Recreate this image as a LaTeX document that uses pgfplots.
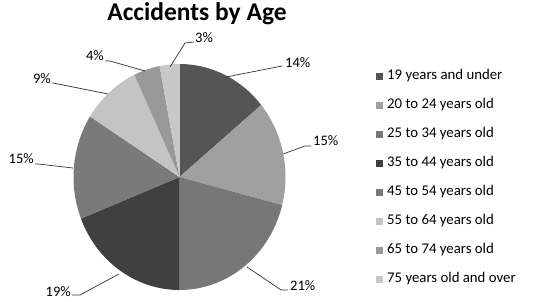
\documentclass[border=0pt]{standalone}
\usepackage{pgfplots}
\usepackage{pgfplotstable}
\usepackage{fontspec}
\setmainfont{Carlito}
\pgfplotsset{compat=1.18}
\definecolor{s1}{HTML}{555555}
\definecolor{s2}{HTML}{A0A0A0}
\definecolor{s3}{HTML}{777777}
\definecolor{s4}{HTML}{404040}
\definecolor{s5}{HTML}{7A7A7A}
\definecolor{s6}{HTML}{C4C4C4}
\definecolor{s7}{HTML}{999999}
\definecolor{s8}{HTML}{C8C8C8}
\pgfplotstableread[col sep=comma]{
label,value,col
19 years and under,14,s1
20 to 24 years old,15,s2
25 to 34 years old,21,s3
35 to 44 years old,19,s4
45 to 54 years old,15,s5
55 to 64 years old,9,s6
65 to 74 years old,4,s7
75 years old and over,3,s8
}\piedata
\tikzset{lab/.style={inner sep=0pt, font=\fontsize{14.5}{16}\selectfont}}
\begin{document}
\begin{tikzpicture}
\begin{axis}[
  width=557pt, height=301pt, scale only axis,
  xmin=0, xmax=557, ymin=0, ymax=301,
  hide axis, clip=false,
]
\path (axis cs:0,0) rectangle (axis cs:557,301);
% pie slices
\def\cum{0}
\pgfplotsforeachungrouped \i in {0,...,7}{%
  \pgfplotstablegetelem{\i}{value}\of\piedata \let\v\pgfplotsretval
  \pgfplotstablegetelem{\i}{col}\of\piedata \let\c\pgfplotsretval
  \pgfmathsetmacro\sa{90-3.6*\cum}%
  \pgfmathsetmacro\newcum{\cum+\v}%
  \pgfmathsetmacro\ea{90-3.6*\newcum}%
  \global\let\cum\newcum
  \edef\cmd{\noexpand\fill[\c] (axis cs:179.5,124) -- ++(\sa:106pt and 113pt) arc[start angle=\sa, end angle=\ea, x radius=106pt, y radius=113pt] -- cycle;}%
  \cmd
}
% leader lines
\draw[black!80, line width=0.7pt] (axis cs:226,224) -- (axis cs:282,235);
\draw[black!80, line width=0.7pt] (axis cs:283,147) -- (axis cs:305,155) -- (axis cs:311,155);
\draw[black!80, line width=0.7pt] (axis cs:247,34) -- (axis cs:281,11) -- (axis cs:288,11);
\draw[black!80, line width=0.7pt] (axis cs:119,27) -- (axis cs:80,6) -- (axis cs:72,6);
\draw[black!80, line width=0.7pt] (axis cs:73,133) -- (axis cs:38,137) -- (axis cs:35,137);
\draw[black!80, line width=0.7pt] (axis cs:108,207) -- (axis cs:53,218) -- (axis cs:52,218);
\draw[black!80, line width=0.7pt] (axis cs:145,230) -- (axis cs:110,240) -- (axis cs:105,240);
\draw[black!80, line width=0.7pt] (axis cs:170,234) -- (axis cs:185,258) -- (axis cs:194,259);
% labels
\node[lab, anchor=west] at (axis cs:285,238) {14\%};
\node[lab, anchor=west] at (axis cs:313,160) {15\%};
\node[lab, anchor=west] at (axis cs:290,15) {21\%};
\node[lab, anchor=east] at (axis cs:71,9) {19\%};
\node[lab, anchor=east] at (axis cs:34,142) {15\%};
\node[lab, anchor=east] at (axis cs:51,222) {9\%};
\node[lab, anchor=east] at (axis cs:104,245) {4\%};
\node[lab, anchor=west] at (axis cs:195,263) {3\%};
% title
\node[inner sep=0pt, font=\fontsize{25.5}{28}\selectfont\bfseries] at (axis cs:197,287) {Accidents by Age};
% legend
\pgfplotsforeachungrouped \i in {0,...,7}{%
  \pgfplotstablegetelem{\i}{label}\of\piedata \let\l\pgfplotsretval
  \pgfplotstablegetelem{\i}{col}\of\piedata \let\c\pgfplotsretval
  \pgfmathsetmacro\yy{225-29*\i}%
  \edef\cmd{\noexpand\fill[\c] (axis cs:376,\yy-3.5) rectangle (axis cs:383,\yy+3.5);
    \noexpand\node[anchor=west, inner sep=0pt, font=\noexpand\fontsize{14.8}{16}\noexpand\selectfont] at (axis cs:387,\yy) {\l};}%
  \cmd
}
\end{axis}
\end{tikzpicture}
\end{document}
